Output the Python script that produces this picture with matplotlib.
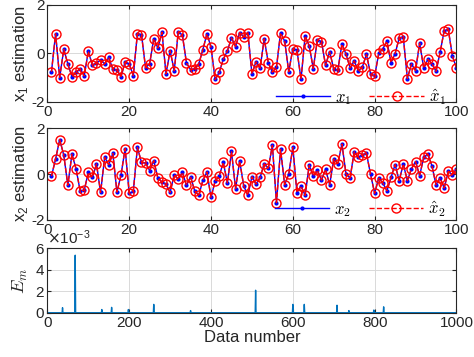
import numpy as np
import matplotlib.pyplot as plt

plt.rcParams['font.family'] = ['Liberation Sans', 'DejaVu Sans']
plt.rcParams['axes.unicode_minus'] = False

# sample index for the two state estimates
idx = np.arange(1, 101)

x1 = [-0.76, 0.81, -1.00, 0.17, -0.44, -0.96, -0.78, -0.63, -0.93, 0.08,
      -0.49, -0.39, -0.28, -0.43, -0.17, -0.65, -0.69, -0.96, -0.35, -0.44,
      -0.92, 0.81, 0.78, -0.60, -0.42, 0.61, 0.22, 0.88, -0.85, 0.11,
      -0.72, 0.90, 0.75, -0.40, -0.67, -0.64, -0.44, 0.15, 0.81, 0.25,
      -1.08, -0.79, -0.24, 0.10, 0.64, 0.28, 0.86, 0.68, 0.86, -0.85,
      -0.35, -0.61, 0.60, -0.39, -0.78, -0.57, 0.85, 0.51, -0.76, 0.19,
      0.14, -1.07, 0.72, 0.31, -0.63, 0.56, 0.49, -0.49, 0.07, -0.65,
      -0.69, 0.38, -0.03, -0.60, -0.31, -0.72, -0.56, -0.04, -0.85, -0.94,
      0.00, 0.19, 0.50, -0.38, -0.01, 0.63, 0.68, -1.04, -0.44, -0.71,
      0.42, -0.61, -0.25, -0.42, -0.74, 0.04, 0.94, 0.99, -0.11, -0.60]
x1_hat = list(x1)

x2 = [-0.09, 0.65, 1.50, 0.83, -0.49, 0.87, 0.23, -0.73, -0.71, 0.07,
      -0.15, 0.44, -0.80, 0.73, 0.41, 0.90, -0.79, -0.04, 1.11, -0.84,
      -0.76, 1.16, 0.51, 0.48, 0.15, 0.58, -0.17, -0.35, -0.44, -0.80,
      -0.03, -0.23, 0.07, -0.49, -0.12, -0.73, -0.93, -0.28, 0.09, -1.02,
      -0.31, -0.09, 0.51, -0.39, 0.99, -0.64, 0.57, -0.52, -0.93, -0.12,
      -0.44, -0.15, 0.45, 0.26, 1.25, -1.25, 1.08, -0.47, 0.00, 1.16,
      -0.81, -0.52, -0.93, 0.38, -0.09, 0.17, -0.26, 0.20, -0.47, 0.65,
      0.45, 1.31, 0.00, -0.17, 0.97, 0.73, 0.84, 0.90, -0.01, -0.84,
      -0.17, -0.39, -0.73, -0.15, 0.41, -0.29, 0.44, -0.29, 0.23, 0.54,
      -0.07, 0.73, 0.87, 0.36, -0.47, -0.17, -0.61, 0.12, -0.03, 0.23]
x2_hat = list(x2)

# E_m: zero except for isolated spikes
em_n = 1000
spike_pos = [37, 68, 133, 157, 198, 260, 350, 509, 600, 628, 708, 737, 798, 822]
spike_val = [0.47, 5.37, 0.30, 0.50, 0.30, 0.78, 0.20, 2.10, 0.78, 0.78, 0.70, 0.20, 0.25, 0.55]

em_idx = np.arange(1, em_n + 1)
em = np.zeros(em_n)
em[np.array(spike_pos) - 1] = np.array(spike_val) * 1e-3

fig = plt.figure(figsize=(4.74, 3.57), dpi=100)
ax1 = fig.add_axes([0.100, 0.715, 0.863, 0.271])
ax2 = fig.add_axes([0.100, 0.384, 0.863, 0.257])
ax3 = fig.add_axes([0.100, 0.124, 0.863, 0.180])

dark = (0.15, 0.15, 0.15)


def style(ax):
    ax.grid(True, color=(0.85, 0.85, 0.85), linewidth=0.7)
    ax.set_axisbelow(True)
    ax.tick_params(direction='in', length=3, labelsize=11, colors=dark,
                   top=True, right=True, pad=2)
    for s in ax.spines.values():
        s.set_color(dark)
        s.set_linewidth(0.8)


for ax, y, yh, lab, labh, ylab, yoff in [
        (ax1, x1, x1_hat, '$x_1$', r'$\hat{x}_1$', r'x$_\mathregular{1}$ estimation', -0.12),
        (ax2, x2, x2_hat, '$x_2$', r'$\hat{x}_2$', r'x$_\mathregular{2}$ estimation', -0.06)]:
    ax.plot(idx, y, '-', color='b', marker='.', markersize=4, linewidth=1, label=lab)
    ax.plot(idx, yh, '--', color='r', marker='o', markersize=6.5,
            markerfacecolor='none', markeredgewidth=1, linewidth=1, label=labh)
    ax.set_xlim(0, 100)
    ax.set_ylim(-2, 2)
    ax.set_xticks([0, 20, 40, 60, 80, 100])
    ax.set_yticks([-2, 0, 2])
    ax.set_ylabel(ylab, fontsize=12, color=dark, labelpad=1)
    style(ax)
    ax.legend(loc='lower right', ncol=2, frameon=False, handlelength=3.25,
              prop={'size': 12, 'math_fontfamily': 'cm'}, borderaxespad=0.0,
              columnspacing=1.1, handletextpad=0.3,
              bbox_to_anchor=(0.99, yoff))

ax3.plot(em_idx, em, color='#0072BD', linewidth=1)
ax3.set_xlim(0, 1000)
ax3.set_ylim(0, 6e-3)
ax3.set_yticks([0, 2e-3, 4e-3, 6e-3])
ax3.ticklabel_format(axis='y', style='sci', scilimits=(0, 0), useMathText=True)
ax3.yaxis.get_offset_text().set_fontsize(11)
ax3.yaxis.get_offset_text().set_color(dark)
ax3.set_ylabel('$E_m$', fontsize=13, color=dark, math_fontfamily='cm', labelpad=3)
ax3.set_xlabel('Data number', fontsize=12, color=dark, labelpad=0)
style(ax3)

fig.savefig('out.png', dpi=100)
